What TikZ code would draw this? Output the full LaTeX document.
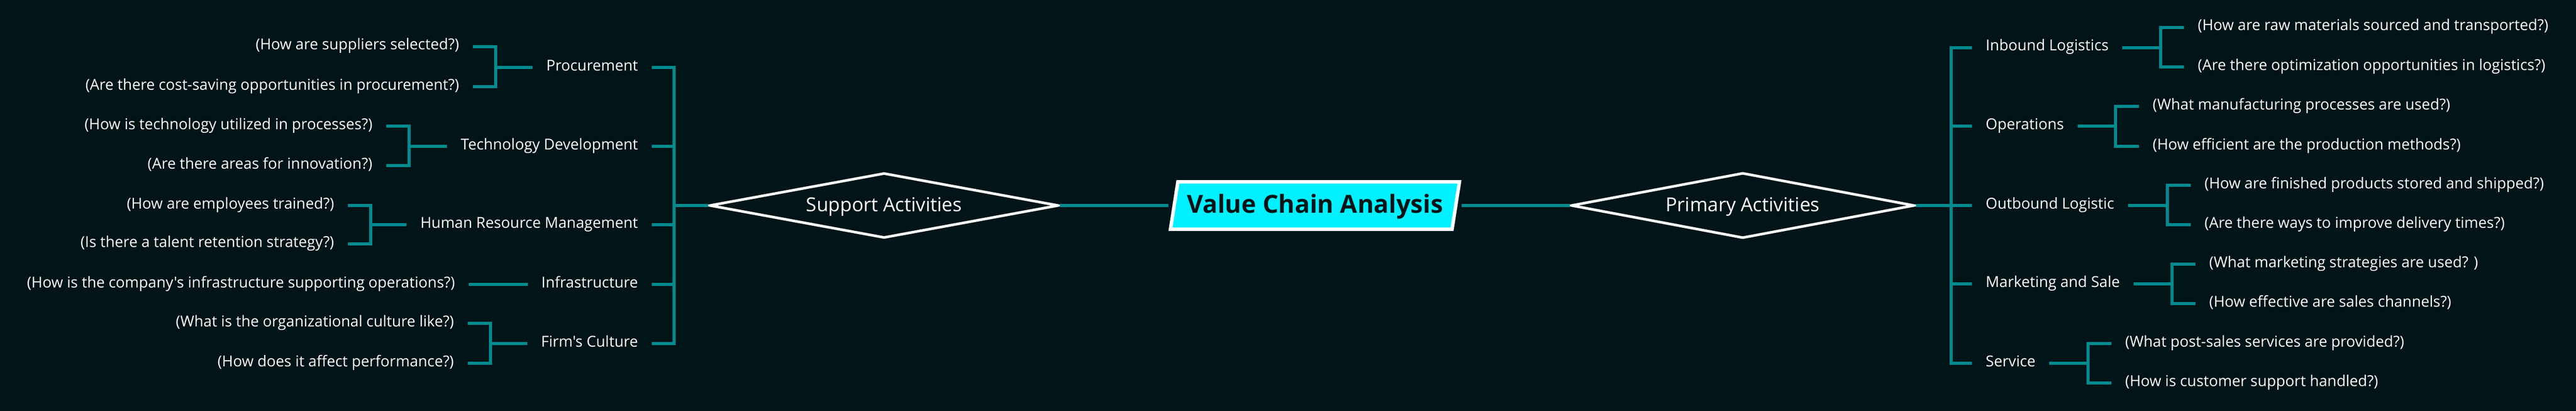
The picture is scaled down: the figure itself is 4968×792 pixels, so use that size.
\documentclass[tikz,border=0pt]{standalone}
\usepackage{fontspec}
\setmainfont{Open Sans}[Ligatures=TeXOff]
\usetikzlibrary{shapes.geometric}
\definecolor{bgdark}{RGB}{1,20,23}
\definecolor{tealline}{RGB}{0,139,144}
\definecolor{headcyan}{RGB}{0,240,255}
\tikzset{
  link/.style={draw=tealline,line width=4.5pt},
  branch/.style={text=white,font=\fontsize{21.75}{26}\selectfont,text height=15pt,text depth=6pt,inner xsep=20pt,inner ysep=0pt,outer sep=0pt},
  act/.style={diamond,aspect=5,draw=white,line width=3.75pt,inner sep=0pt,text=white,text height=21pt,text depth=4.5pt,font=\fontsize{27.75}{32}\selectfont},
  headbox/.style={trapezium,trapezium left angle=72,trapezium right angle=108,trapezium stretches body,draw=white,line width=5pt,fill=headcyan,text=bgdark,inner sep=0pt,text height=27pt,text depth=6pt,font=\bfseries\fontsize{36}{41}\selectfont}
}
\begin{document}
\begin{tikzpicture}[x=0.75pt,y=-0.75pt]
\fill[bgdark](0,0)rectangle(4968,792);
\useasboundingbox(0,0)rectangle(4968,792);
\node[headbox,minimum width=418pt,minimum height=68.5pt](vca)at(2536,396){Value Chain Analysis};
\node[act,minimum width=505pt,minimum height=94pt](sa)at(1705,396){Support Activities};
\node[act,minimum width=496.5pt,minimum height=94.5pt](pa)at(3361,396){Primary Activities};
\draw[link](sa.east)--(vca.bottom left corner|-vca.west);
\draw[link](vca.top right corner|-vca.east)--(pa.west);
% support activities
\foreach \n/\t/\y in {proc/Procurement/130,tech/Technology Development/282,hrm/Human Resource Management/433,infra/Infrastructure/548,cult/Firm's Culture/662}{
  \node[branch,anchor=east](\n)at(1257,\y){\t};
  \draw[link](sa.west)--++(-66,0)|-(\n.east);
}
\foreach \n/\b/\t/\x/\y in {proc1/proc/(How are suppliers selected?)/912/90,
  proc2/proc/(Are there cost-saving opportunities in procurement?)/912/167,
  tech1/tech/(How is technology utilized in processes?)/745/243,
  tech2/tech/(Are there areas for innovation?)/745/319,
  hrm1/hrm/(How are employees trained?)/671/396,
  hrm2/hrm/(Is there a talent retention strategy?)/671/470,
  infra1/infra/(How is the company's infrastructure supporting operations?)/904/548,
  cult1/cult/(What is the organizational culture like?)/902/623,
  cult2/cult/(How does it affect performance?)/902/700}{
  \node[branch,anchor=east](\n)at(\x,\y){\t};
  \draw[link](\n.east)--++(44,0)|-(\b.west);
}
% primary activities
\foreach \n/\t/\y in {inb/Inbound Logistics/92,ops/Operations/243,outb/Outbound Logistic/396,mkt/Marketing and Sale/547,serv/Service/700}{
  \node[branch,anchor=west](\n)at(3803,\y){\t};
  \draw[link](pa.east)--++(68,0)|-(\n.west);
}
\foreach \n/\b/\t/\x/\y in {inb1/inb/(How are raw materials sourced and transported?)/4212/53,
  inb2/inb/(Are there optimization opportunities in logistics?)/4212/129,
  ops1/ops/(What manufacturing processes are used?)/4125/205,
  ops2/ops/(How efficient are the production methods?)/4125/282,
  outb1/outb/(How are finished products stored and shipped?)/4225/357,
  outb2/outb/(Are there ways to improve delivery times?)/4225/433,
  mkt1/mkt/(What marketing strategies are used? )/4234/509,
  mkt2/mkt/(How effective are sales channels?)/4234/585,
  serv1/serv/(What post-sales services are provided?)/4072/662,
  serv2/serv/(How is customer support handled?)/4072/738}{
  \node[branch,anchor=west](\n)at(\x,\y){\t};
  \draw[link](\n.west)--++(-45,0)|-(\b.east);
}
\end{tikzpicture}
\end{document}
